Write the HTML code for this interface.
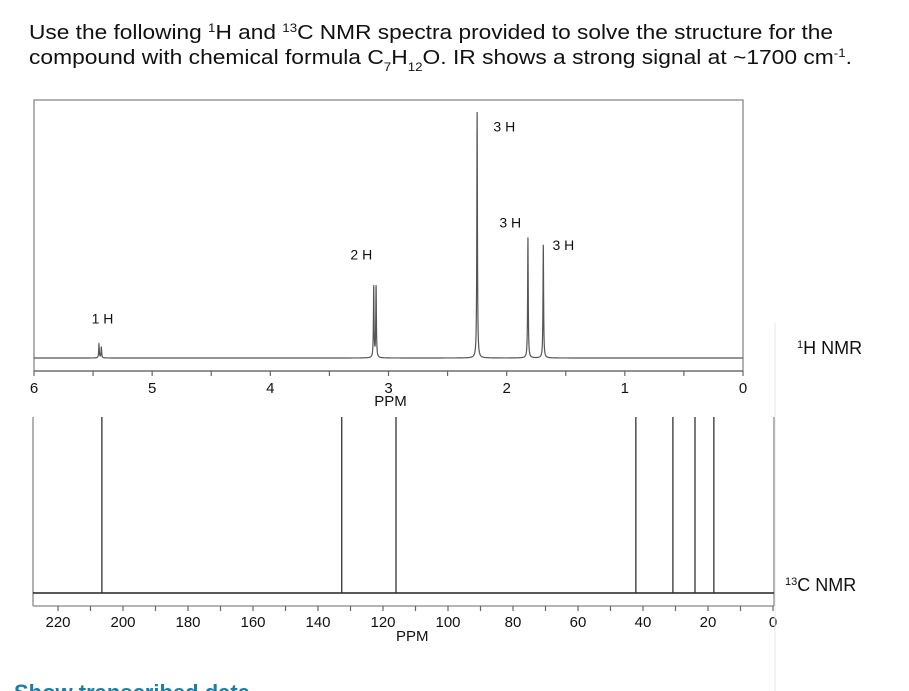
<!DOCTYPE html>
<html><head><meta charset="utf-8"><style>
html,body{margin:0;padding:0;background:#fff;width:909px;height:691px;overflow:hidden}
svg{display:block;font-family:"Liberation Sans",sans-serif}
</style></head><body>
<svg id="chart" width="909" height="691" viewBox="0 0 909 691">
<text x="29" y="39" font-size="20.5" fill="#111" textLength="804" lengthAdjust="spacingAndGlyphs">Use the following <tspan baseline-shift="super" font-size="12">1</tspan>H and <tspan baseline-shift="super" font-size="12">13</tspan>C NMR spectra provided to solve the structure for the</text>
<text x="29" y="64" font-size="20.5" fill="#111" textLength="823" lengthAdjust="spacingAndGlyphs">compound with chemical formula C<tspan baseline-shift="sub" font-size="12">7</tspan>H<tspan baseline-shift="sub" font-size="12">12</tspan>O. IR shows a strong signal at ~1700 cm<tspan baseline-shift="super" font-size="12">-1</tspan>.</text>
<g id="hplot"></g>
<g id="cplot"></g>
<line x1="775" y1="323" x2="775" y2="691" stroke="#e6e6e6" stroke-width="1"/>
<text x="797" y="354" font-size="18" fill="#111"><tspan baseline-shift="super" font-size="11">1</tspan>H NMR</text>
<text x="785" y="591" font-size="18" fill="#111"><tspan baseline-shift="super" font-size="11">13</tspan>C NMR</text>
<text x="14" y="700" font-size="22" font-weight="bold" fill="#1a7fa6">Show transcribed data</text>
</svg>
<script>
// 1H NMR data
const hPeakPpm = [5.45, 5.43, 3.125, 3.105, 2.25, 1.82, 1.69];
const hPeakIntensity = [5.7, 4.5, 29, 29, 100, 49, 46];
const hLabels = ["1 H", "2 H", "3 H", "3 H", "3 H"];
const hLabelPpm = [5.42, 3.23, 2.02, 1.97, 1.52];
const hLabelIntensity = [14, 40, 92, 53, 44];
const hTickLabels = [6, 5, 4, 3, 2, 1, 0];
// 13C NMR data
const cPeakPpm = [206.5, 132.7, 116, 42.2, 30.8, 24, 18.2];
const cPeakIntensity = [100, 100, 100, 100, 100, 100, 100];
const cTickLabels = [220, 200, 180, 160, 140, 120, 100, 80, 60, 40, 20, 0];

const NS = "http://www.w3.org/2000/svg";
function mk(tag, attrs, parent) {
  const e = document.createElementNS(NS, tag);
  for (const k in attrs) e.setAttribute(k, attrs[k]);
  parent.appendChild(e);
  return e;
}
// H axis
const hx = p => 743 - p * (709 / 6);
const hy = v => 358 - v * 2.46;
const hg = document.getElementById('hplot');
const hbox = mk('rect', {x: 34, y: 100, width: 709, height: 271, fill: 'none', stroke: '#888', 'stroke-width': 1.3}, hg);


const hax = mk('line', {x1: 34, y1: 371, x2: 743, y2: 371, stroke: '#666', 'stroke-width': 1.3}, hg);


for (let t = 0; t <= 12; t++) {
  const p = t / 2;
  const tk = mk('line', {x1: hx(p), y1: 371, x2: hx(p), y2: 376, stroke: '#666', 'stroke-width': 1.2}, hg);
  
  
}
hTickLabels.forEach(v => {
  const t = mk('text', {x: hx(v), y: 393, 'font-size': 15, 'text-anchor': 'middle', fill: '#111'}, hg);
  t.textContent = v;
  
  
});
const hppm = mk('text', {x: hx(3) + 2, y: 406, 'font-size': 15, 'text-anchor': 'middle', fill: '#111'}, hg);
hppm.textContent = 'PPM';


// spectrum trace (sample grid plus exact peak centres)
const w = 0.003;
const xs = [];
for (let px = 34; px <= 743; px += 0.2) xs.push(px);
hPeakPpm.forEach(p => xs.push(hx(p)));
xs.sort((a, b) => a - b);
let d = '';
xs.forEach(px => {
  const p = (743 - px) / (709 / 6);
  let s = 0;
  for (let i = 0; i < hPeakPpm.length; i++) {
    const dx = (p - hPeakPpm[i]) / w;
    s += hPeakIntensity[i] / (1 + dx * dx);
  }
  d += (d ? 'L' : 'M') + px.toFixed(2) + ' ' + hy(s).toFixed(2);
});
const tr = mk('path', {d: d, fill: 'none', stroke: '#555', 'stroke-width': 1.2}, hg);


hLabels.forEach((l, i) => {
  const t = mk('text', {x: hx(hLabelPpm[i]), y: hy(hLabelIntensity[i]), 'font-size': 14, 'text-anchor': 'middle', fill: '#111'}, hg);
  t.textContent = l;
  
  
});
// C axis
const cx = p => 773 - p * 3.25;
const cy = v => 593 - v * 1.76;
const cg = document.getElementById('cplot');
const cl = mk('line', {x1: 33, y1: 417, x2: 33, y2: 606, stroke: '#888', 'stroke-width': 1.3}, cg);


const cr = mk('line', {x1: 774, y1: 417, x2: 774, y2: 606, stroke: '#888', 'stroke-width': 1.3}, cg);


const cb = mk('line', {x1: 33, y1: 593, x2: 774, y2: 593, stroke: '#222', 'stroke-width': 1.4}, cg);


const cax = mk('line', {x1: 33, y1: 606, x2: 774, y2: 606, stroke: '#888', 'stroke-width': 1.3}, cg);


for (let p = 0; p <= 220; p += 10) {
  const tk = mk('line', {x1: cx(p), y1: 606, x2: cx(p), y2: 611, stroke: '#666', 'stroke-width': 1.2}, cg);
  
  
}
cTickLabels.forEach(v => {
  const t = mk('text', {x: cx(v), y: 627, 'font-size': 15, 'text-anchor': 'middle', fill: '#111'}, cg);
  t.textContent = v;
  
  
});
const cppm = mk('text', {x: cx(111), y: 641, 'font-size': 15, 'text-anchor': 'middle', fill: '#111'}, cg);
cppm.textContent = 'PPM';


cPeakPpm.forEach((p, i) => {
  const ln = mk('line', {x1: cx(p), y1: 593, x2: cx(p), y2: cy(cPeakIntensity[i]), stroke: '#333', 'stroke-width': 1.3}, cg);
  
  
});
</script>
</body></html>
